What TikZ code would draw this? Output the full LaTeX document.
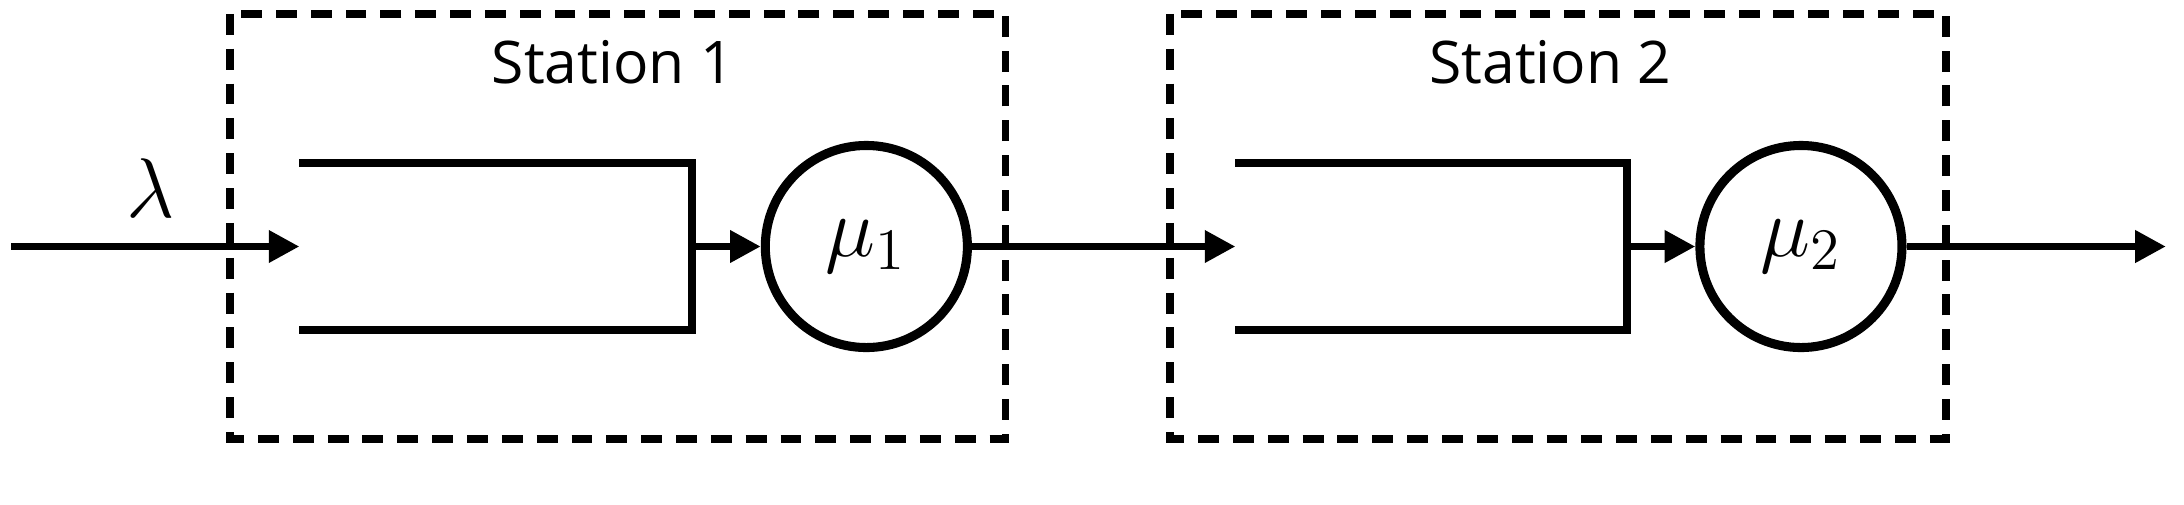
\documentclass[tikz,border=0pt]{standalone}
\usepackage{fontspec}
\setsansfont{Open Sans}
\usetikzlibrary{arrows.meta}
\begin{document}
\begin{tikzpicture}[x=0.01cm,y=-0.01cm,line width=0.055cm,
  box/.style={dash pattern=on 0.15cm off 0.1cm},
  arr/.style={-{Triangle[length=0.22cm,width=0.22cm]}},
  server/.style={circle,draw,line width=0.065cm,minimum size=1.45cm,inner sep=0pt,font=\LARGE},
  lbl/.style={font=\sffamily\large}]
\useasboundingbox (0,0) rectangle (1568,362);
% station boxes
\draw[box] (165,10) rectangle (722,315);
\draw[box] (840,10) rectangle (1397,315);
\node[lbl] (s1) at (440,45) {Station 1};
\node[lbl] (s2) at (1113,45) {Station 2};
% queues
\draw (215,117) -- (497,117) -- (497,237) -- (215,237);
\draw (887,117) -- (1168,117) -- (1168,237) -- (887,237);
\coordinate (in) at (8,177);
\coordinate (q1in) at (215,177);
\coordinate (q1out) at (497,177);
\coordinate (q2in) at (887,177);
\coordinate (q2out) at (1168,177);
\coordinate (out) at (1555,177);
\node[server] (m1) at (622,177) {$\mu_1$};
\node[server] (m2) at (1293,177) {$\mu_2$};
\node[font=\LARGE] (lam) at (108,135) {$\lambda$};
\draw[arr] (in) -- (q1in);
\draw[arr] (q1out) -- (m1);
\draw[arr] (m1) -- (q2in);
\draw[arr] (q2out) -- (m2);
\draw[arr] (m2) -- (out);
\end{tikzpicture}
\end{document}
